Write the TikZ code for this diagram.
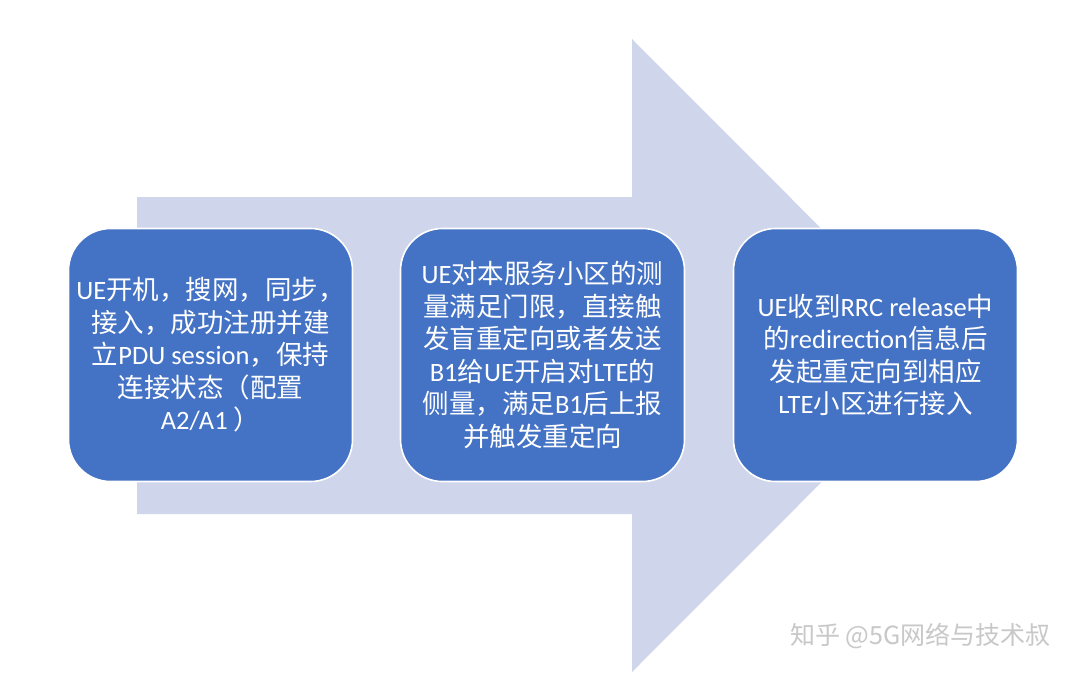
\documentclass[tikz,border=0pt]{standalone}
\usepackage{fontspec}
\setmainfont{Noto Sans CJK SC}
\newfontfamily\lat{Carlito}
\definecolor{arrowfill}{HTML}{CFD5EA}
\definecolor{boxfill}{HTML}{4472C4}
\definecolor{wmark}{HTML}{C8C8C8}
\begin{document}
\begin{tikzpicture}[x=1pt,y=-1pt,
  stagebox/.style={draw=white, line width=1.6pt, fill=boxfill, rounded corners=42pt,
    minimum width=284pt, minimum height=253pt, align=center, text=white,
    font=\fontsize{26.5}{32.5}\selectfont, inner sep=0pt},
  bigarrow/.style={fill=arrowfill, draw=none}]
\useasboundingbox (0,0) rectangle (1080,683);
\fill[white] (0,0) rectangle (1080,683);
% big arrow
\path[bigarrow] (137,197) -- (632,197) -- (632,39) -- (948,355.5) -- (632,672) -- (632,514) -- (137,514) -- cycle;
% stages
\node[stagebox] (s1) at (210.5,355) {{\lat UE}开机，搜网，同步，\\接入，成功注册并建\\立{\lat PDU session}，保持\\连接状态（配置\\{\lat A2/A1 }）};
\node[stagebox] (s2) at (542.5,355) {{\lat UE}对本服务小区的测\\量满足门限，直接触\\发盲重定向或者发送\\{\lat B1}给{\lat UE}开启对{\lat LTE}的\\侧量，满足{\lat B1}后上报\\并触发重定向};
\node[stagebox] (s3) at (875.5,355) {{\lat UE}收到{\lat RRC release}中\\的{\lat redirection}信息后\\发起重定向到相应\\{\lat LTE}小区进行接入};
% watermark
\node[text=wmark, font=\fontsize{25}{28}\selectfont, anchor=west, inner sep=0pt] (wm) at (790,636) {知乎 @5G网络与技术叔};
\end{tikzpicture}
\end{document}
